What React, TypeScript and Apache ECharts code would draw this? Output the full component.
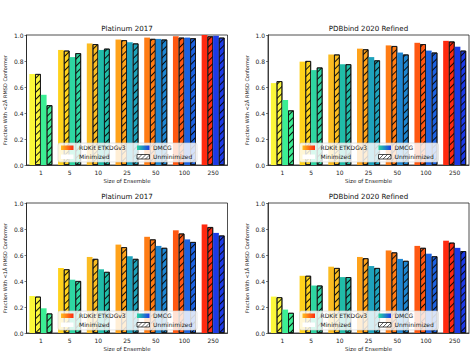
import React, { useEffect, useRef } from 'react';
import * as echarts from 'echarts';

const categories = ['1', '5', '10', '25', '50', '100', '250'];

// Platinum 2017, <2Å
const plat2RdkitMin = [0.70, 0.885, 0.935, 0.965, 0.98, 0.99, 1.0];
const plat2RdkitUnmin = [0.70, 0.88, 0.93, 0.96, 0.97, 0.98, 0.99];
const plat2DmcgMin = [0.54, 0.83, 0.885, 0.945, 0.97, 0.98, 0.995];
const plat2DmcgUnmin = [0.46, 0.86, 0.895, 0.935, 0.965, 0.975, 0.98];

// PDBbind 2020 Refined, <2Å
const pdb2RdkitMin = [0.63, 0.795, 0.85, 0.895, 0.92, 0.94, 0.955];
const pdb2RdkitUnmin = [0.645, 0.80, 0.85, 0.89, 0.915, 0.93, 0.95];
const pdb2DmcgMin = [0.50, 0.73, 0.775, 0.83, 0.865, 0.88, 0.91];
const pdb2DmcgUnmin = [0.42, 0.75, 0.775, 0.805, 0.85, 0.865, 0.88];

// Platinum 2017, <1Å
const plat1RdkitMin = [0.285, 0.50, 0.585, 0.68, 0.74, 0.79, 0.835];
const plat1RdkitUnmin = [0.28, 0.49, 0.57, 0.66, 0.72, 0.765, 0.815];
const plat1DmcgMin = [0.19, 0.41, 0.49, 0.59, 0.67, 0.72, 0.77];
const plat1DmcgUnmin = [0.15, 0.40, 0.47, 0.57, 0.655, 0.70, 0.75];

// PDBbind 2020 Refined, <1Å
const pdb1RdkitMin = [0.28, 0.44, 0.51, 0.585, 0.635, 0.67, 0.71];
const pdb1RdkitUnmin = [0.275, 0.44, 0.50, 0.575, 0.62, 0.655, 0.695];
const pdb1DmcgMin = [0.18, 0.365, 0.43, 0.515, 0.57, 0.61, 0.655];
const pdb1DmcgUnmin = [0.155, 0.365, 0.43, 0.50, 0.555, 0.59, 0.63];

const rdkitColors = ['#fbf73a', '#ffd21c', '#fbbc22', '#ffa21a', '#ff7c14', '#ff5812', '#ff2a10'];
const dmcgColors = ['#3cee94', '#2ed6a2', '#20bca8', '#1ea2bc', '#1e86d2', '#1c62e0', '#1c3ae6'];

const FONT = '"DejaVu Sans", sans-serif';

const panels = [
  { title: 'Platinum 2017', yName: 'Fraction With <2Å RMSD Conformer', left: 26.5, top: 35, data: [plat2RdkitMin, plat2RdkitUnmin, plat2DmcgMin, plat2DmcgUnmin] },
  { title: 'PDBbind 2020 Refined', yName: 'Fraction With <2Å RMSD Conformer', left: 268, top: 35, data: [pdb2RdkitMin, pdb2RdkitUnmin, pdb2DmcgMin, pdb2DmcgUnmin] },
  { title: 'Platinum 2017', yName: 'Fraction With <1Å RMSD Conformer', left: 26.5, top: 203, data: [plat1RdkitMin, plat1RdkitUnmin, plat1DmcgMin, plat1DmcgUnmin] },
  { title: 'PDBbind 2020 Refined', yName: 'Fraction With <1Å RMSD Conformer', left: 268, top: 203, data: [pdb1RdkitMin, pdb1RdkitUnmin, pdb1DmcgMin, pdb1DmcgUnmin] },
];

const PW = 201;
const PH = 130;

const hatchDecal = {
  symbol: 'rect',
  symbolSize: 1,
  color: 'rgba(0,0,0,0.9)',
  dashArrayX: [1, 0],
  dashArrayY: [1, 4],
  rotation: -Math.PI / 4,
};

const LZ = 200;

function legendGroup(x: number, y: number) {
  const txt = (t: string, tx: number, ty: number) => ({
    type: 'text',
    x: x + tx,
    y: y + ty,
    z: LZ + 2,
    style: { text: t, fill: '#222', fontSize: 6, fontFamily: FONT, verticalAlign: 'middle', align: 'left' },
  });
  const hx = x + 79, hy = y + 11.5, hw = 12.5, hh = 4.5;
  const hatchLines = [0, 4, 8].map((o) => {
    const x1 = hx + o + 0.5;
    const x2 = Math.min(x1 + hh, hx + hw);
    return {
      type: 'line',
      z: LZ + 2,
      shape: { x1, y1: hy + hh, x2, y2: hy + hh - (x2 - x1) },
      style: { stroke: '#000', lineWidth: 0.6 },
    };
  });
  return [
    { type: 'rect', z: LZ, shape: { x, y, width: 139, height: 19, r: 2 }, style: { fill: 'rgba(255,255,255,0.82)', stroke: '#d4d4d4', lineWidth: 0.6 } },
    {
      type: 'rect', z: LZ + 1, shape: { x: x + 3, y: y + 2.5, width: 12.5, height: 4.5 },
      style: { fill: new echarts.graphic.LinearGradient(0, 0, 1, 0, [{ offset: 0, color: '#ffc020' }, { offset: 1, color: '#ff2a10' }]) },
    },
    txt('RDKit ETKDGv3', 21, 4.8),
    {
      type: 'rect', z: LZ + 1, shape: { x: x + 79, y: y + 2.5, width: 12.5, height: 4.5 },
      style: { fill: new echarts.graphic.LinearGradient(0, 0, 1, 0, [{ offset: 0, color: '#26d8a0' }, { offset: 1, color: '#1c3ae6' }]) },
    },
    txt('DMCG', 95, 4.8),
    { type: 'rect', z: LZ + 1, shape: { x: x + 3, y: y + 11.5, width: 12.5, height: 4.5 }, style: { fill: '#ffffff' } },
    txt('Minimized', 21, 13.8),
    { type: 'rect', z: LZ + 1, shape: { x: hx, y: hy, width: hw, height: hh }, style: { fill: '#ffffff', stroke: '#000', lineWidth: 0.7 } },
    ...hatchLines,
    txt('Unminimized', 95, 13.8),
  ];
}

export default function App() {
  const ref = useRef<HTMLDivElement>(null);
  useEffect(() => {
    if (!ref.current) return;
    const chart = echarts.init(ref.current, null, { renderer: 'svg' });

    const grid: any[] = [];
    const xAxis: any[] = [];
    const yAxis: any[] = [];
    const series: any[] = [];
    const title: any[] = [];
    const graphic: any[] = [];

    panels.forEach((p, i) => {
      grid.push({ left: p.left, top: p.top, width: PW, height: PH, show: true, borderColor: '#222', borderWidth: 0.8, backgroundColor: 'transparent', containLabel: false });
      xAxis.push({
        type: 'category', gridIndex: i, data: categories,
        name: 'Size of Ensemble', nameLocation: 'middle', nameGap: 13,
        nameTextStyle: { fontSize: 5.5, fontFamily: FONT, color: '#222' },
        axisLine: { lineStyle: { color: '#222', width: 0.8 } },
        axisTick: { alignWithLabel: true, length: 2, lineStyle: { color: '#222', width: 0.6 } },
        axisLabel: { fontSize: 6, fontFamily: FONT, color: '#222', margin: 4 },
      });
      yAxis.push({
        type: 'value', gridIndex: i, min: 0, max: 1, interval: 0.2,
        name: p.yName, nameLocation: 'middle', nameGap: 19,
        nameTextStyle: { fontSize: 5, fontFamily: FONT, color: '#222' },
        axisLine: { show: true, lineStyle: { color: '#222', width: 0.8 } },
        axisTick: { show: true, length: 2, lineStyle: { color: '#222', width: 0.6 } },
        splitLine: { show: false },
        axisLabel: { fontSize: 6, fontFamily: FONT, color: '#222', margin: 3, formatter: (v: number) => v.toFixed(1) },
      });
      title.push({
        text: p.title, left: p.left + PW / 2, top: p.top - 10.5, textAlign: 'center', padding: 0,
        textStyle: { fontSize: 7.1, fontWeight: 'normal', fontFamily: FONT, color: '#111' },
      });
      p.data.forEach((vals, k) => {
        const isRdkit = k < 2;
        const unmin = k % 2 === 1;
        const colors = isRdkit ? rdkitColors : dmcgColors;
        series.push({
          type: 'bar', xAxisIndex: i, yAxisIndex: i,
          barGap: '0%', barCategoryGap: '20%',
          z: 2,
          data: vals.map((v, j) => ({ value: v, itemStyle: { color: colors[j] } })),
          itemStyle: unmin ? { borderColor: '#111', borderWidth: 0.8, decal: hatchDecal } : { borderWidth: 0 },
        });
      });
      graphic.push(...legendGroup(p.left + 31.5, p.top + 108));
    });

    chart.setOption({
      animation: false,
      backgroundColor: '#ffffff',
      title, grid, xAxis, yAxis, series, graphic,
    });
    return () => chart.dispose();
  }, []);
  return <div ref={ref} style={{ width: 474, height: 363, position: 'absolute', left: 0, top: 0 }} />;
}
